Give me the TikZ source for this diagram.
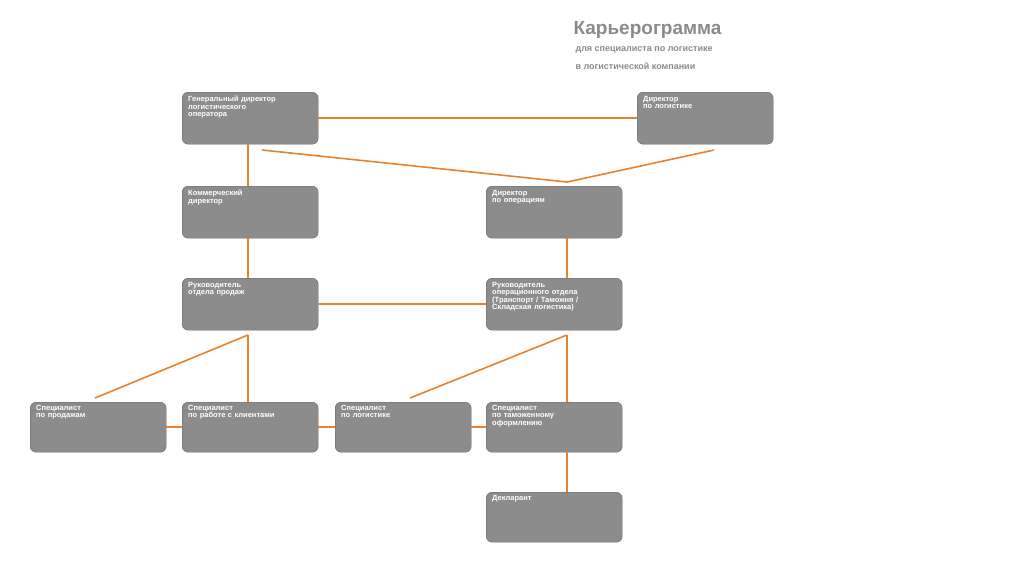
\documentclass[tikz,border=0pt]{standalone}
\usepackage{fontspec}
\setmainfont{Liberation Sans}
\usetikzlibrary{positioning}
\definecolor{boxgray}{HTML}{8C8C8C}
\definecolor{linkorange}{HTML}{E8822E}
\definecolor{titlegray}{HTML}{8A8A8A}
\tikzset{
  post/.style={draw=boxgray!70!black,fill=boxgray,rounded corners=6pt,
    minimum width=136pt,minimum height=52pt,anchor=north west,
    text=white,font=\fontsize{7.5}{7.5}\selectfont\bfseries,
    align=left,text width=124pt,inner sep=0pt},
  link/.style={draw=linkorange,line width=1.6pt}
}
\newcommand{\posttext}[1]{\parbox[t][44pt][t]{124pt}{#1}}
\begin{document}
\begin{tikzpicture}[x=1pt,y=-1pt]
  \useasboundingbox (0,0) rectangle (1024,574);

  \node[anchor=west,text=titlegray,font=\fontsize{19}{19}\selectfont\bfseries]
    (title) at (570,30) {Карьерограмма};
  \node[anchor=west,text=titlegray,font=\fontsize{9}{9}\selectfont\bfseries]
    (sub1) at (572,50) {для специалиста по логистике};
  \node[anchor=west,text=titlegray,font=\fontsize{9}{9}\selectfont\bfseries]
    (sub2) at (572,66) {в логистической компании};

  % rows of posts
  \node[post] (gendir) at (182,92) {\posttext{Генеральный директор\\логистического\\оператора}};
  \node[post] (logdir) at (637,92) {\posttext{Директор\\по логистике}};
  \node[post] (comdir) at (182,186) {\posttext{Коммерческий\\директор}};
  \node[post] (opsdir) at (486,186) {\posttext{Директор\\по операциям}};
  \node[post] (salehead) at (182,278) {\posttext{Руководитель\\отдела продаж}};
  \node[post] (opshead) at (486,278) {\posttext{Руководитель\\операционного отдела\\(Транспорт / Таможня /\\Складская логистика)}};
  \node[post,minimum height=50pt] (salespec) at (30,402) {\posttext{Специалист\\по продажам}};
  \node[post,minimum height=50pt] (clientspec) at (182,402) {\posttext{Специалист\\по работе с клиентами}};
  \node[post,minimum height=50pt] (logspec) at (335,402) {\posttext{Специалист\\по логистике}};
  \node[post,minimum height=50pt] (custspec) at (486,402) {\posttext{Специалист\\по таможенному\\оформлению}};
  \node[post,minimum height=50pt] (declarant) at (486,492) {\posttext{Декларант}};

  % links
  \coordinate (gd1) at (262,150);
  \coordinate (ld1) at (714,150);
  \coordinate (od1) at (567,182);
  \coordinate (sh1) at (248,335);
  \coordinate (oh1) at (567,335);
  \coordinate (ss1) at (95,398);
  \coordinate (ls1) at (410,398);
  \draw[link] (gendir.east) -- (logdir.west);
  \draw[link] (gd1) -- (od1);
  \draw[link] (ld1) -- (od1);
  \draw[link] (gendir.south-|248,0) -- (comdir.north-|248,0);
  \draw[link] (comdir.south-|248,0) -- (salehead.north-|248,0);
  \draw[link] (opsdir.south-|567,0) -- (opshead.north-|567,0);
  \draw[link] (salehead.east) -- (opshead.west);
  \draw[link] (sh1) -- (ss1);
  \draw[link] (sh1) -- (clientspec.north-|248,0);
  \draw[link] (oh1) -- (ls1);
  \draw[link] (oh1) -- (custspec.north-|567,0);
  \draw[link] (salespec.east) -- (clientspec.west);
  \draw[link] (clientspec.east) -- (logspec.west);
  \draw[link] (logspec.east) -- (custspec.west);
  \draw[link] (custspec.south-|567,0) -- (declarant.north-|567,0);
\end{tikzpicture}
\end{document}
